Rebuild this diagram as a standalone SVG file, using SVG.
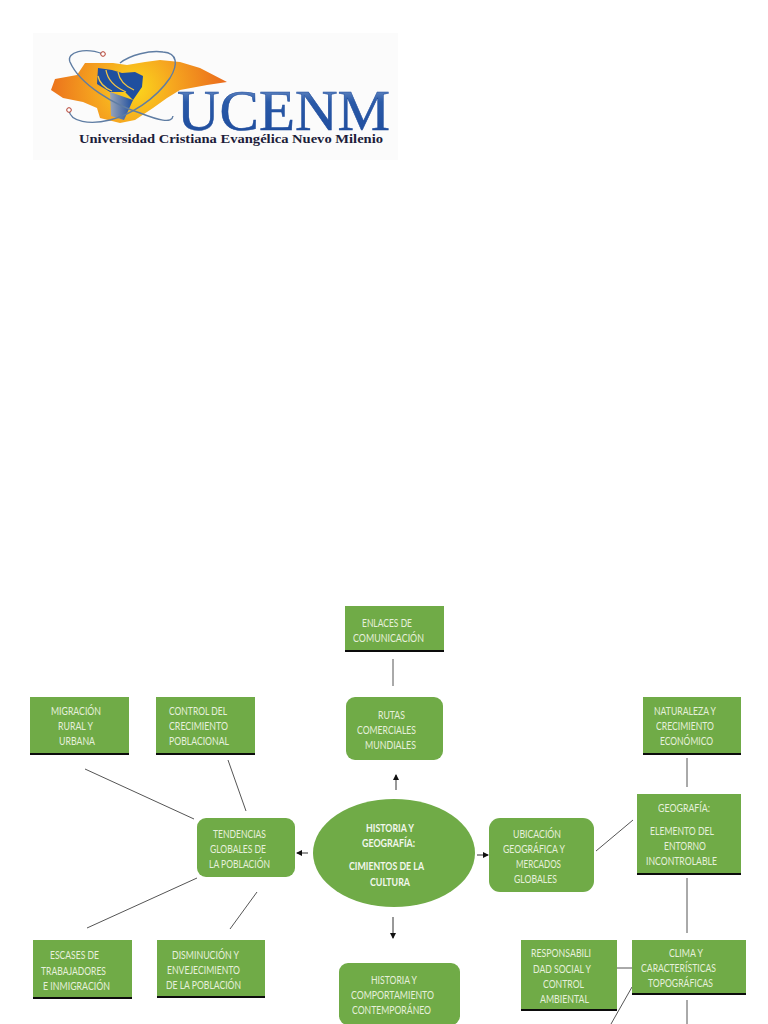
<svg xmlns="http://www.w3.org/2000/svg" width="768" height="1024" viewBox="0 0 768 1024">
<defs>
<radialGradient id="mapG" gradientUnits="userSpaceOnUse" cx="135" cy="88" r="95"><stop offset="0" stop-color="#fbd81c"/><stop offset="0.4" stop-color="#f6a71f"/><stop offset="1" stop-color="#e9661c"/></radialGradient>
<linearGradient id="blueG" x1="0" y1="0" x2="0" y2="1"><stop offset="0" stop-color="#8ea9d4"/><stop offset="0.35" stop-color="#2a5aa8"/><stop offset="1" stop-color="#1c4a9c"/></linearGradient>
<linearGradient id="stemG" x1="0" y1="0" x2="1" y2="0"><stop offset="0" stop-color="#9aa5b8"/><stop offset="1" stop-color="#1f4f9f"/></linearGradient>
<marker id="ah" markerWidth="6" markerHeight="6" refX="5" refY="3" orient="auto" markerUnits="userSpaceOnUse"><path d="M0,0 L6,3 L0,6 Z" fill="#111"/></marker>
</defs>
<style>
.box{fill:#70ab47}
.bar{fill:#0c0c0c}
.t{font-family:"Lato","Open Sans",sans-serif;font-size:10.5px;fill:#e6f0dc}
.b{font-family:"Lato","Open Sans",sans-serif;font-size:10.5px;font-weight:700;fill:#f2f7ec}
.c{stroke:#555;stroke-width:1;fill:none}
.a{stroke:#333;stroke-width:1;fill:none;marker-end:url(#ah)}
</style>
<rect width="768" height="1024" fill="#fff"/>
<g id="logo">
<rect x="33" y="33" width="365" height="127" fill="#fbfbfb"/>
<path d="M51,90 L55,79 L77,75 L85,63 L113,63 L127,65 L145,62 L160,60 L180,62 L200,68 L227,82 L207,85 L180,90 L167,98 L153,108 L135,120 L120,123 L100,118 L97,108 L83,102 L63,98Z" fill="url(#mapG)"/>
<path d="M98,68 L112,70 L122,73 L135,72 L143,76 L142,87 L133,100 L125,92 L110,92 L97,84Z" fill="#1f4f9f"/>
<path d="M110,92 L133,100 L124,120 L111,116Z" fill="url(#stemG)"/>
<path d="M106,70 Q108,84 126,92 M118,72 Q120,84 134,90 M98,76 Q100,86 112,91" stroke="#f4c542" stroke-width="1.3" fill="none"/>
<path d="M103,54 C85,47 66,52 70,62 C80,85 115,105 140,113 C158,120 172,124 173,116" fill="none" stroke="#5f7da3" stroke-width="1.4"/>
<path d="M120,63 C130,55 150,50 163,52 C178,53 178,65 170,78 C155,100 130,115 110,120 C90,125 70,122 69,110" fill="none" stroke="#5f7da3" stroke-width="1.4"/>
<circle cx="103" cy="54" r="2.3" fill="#fff" stroke="#b23a2a" stroke-width="1"/>
<circle cx="69" cy="110" r="2.3" fill="#fff" stroke="#b23a2a" stroke-width="1"/>
<text x="177" y="130" font-family="Liberation Serif,serif" font-size="56" fill="url(#blueG)" textLength="213" lengthAdjust="spacingAndGlyphs" stroke="#1c4a9c" stroke-width="0.5">UCENM</text>
<text x="79" y="143" font-family="Liberation Serif,serif" font-size="12" font-weight="700" fill="#1d1d3a" textLength="304" lengthAdjust="spacingAndGlyphs">Universidad Cristiana Evangélica Nuevo Milenio</text>
</g>
<g id="connectors">
<path class="c" d="M393,659V686"/>
<path class="c" d="M85,769L194,819"/>
<path class="c" d="M228,760L246,811"/>
<path class="c" d="M197,878L87,928"/>
<path class="c" d="M257,892L230,929"/>
<path class="c" d="M687,758V787"/>
<path class="c" d="M687,878V933"/>
<path class="c" d="M596,851L633,820"/>
<path class="c" d="M617,968H632"/>
<path class="c" d="M632,987L611,1024"/>
<path class="c" d="M687,1000V1024"/>
<path class="c" d="M394,1022V1024"/>
<path class="a" d="M396,790V775"/>
<path class="a" d="M393,917V938"/>
<path class="a" d="M308,853H297"/>
<path class="a" d="M477,855H488"/>
</g>
<g id="enlaces"><rect class="box" x="345" y="606" width="99" height="46"/><rect class="bar" x="345" y="650" width="99" height="2"/><text class="t" x="362" y="627" textLength="50" lengthAdjust="spacingAndGlyphs">ENLACES DE</text><text class="t" x="353" y="642" textLength="71" lengthAdjust="spacingAndGlyphs">COMUNICACIÓN</text></g>
<g id="rutas"><rect class="box" x="346" y="697" width="97" height="63" rx="9"/><text class="t" x="378" y="719" textLength="27" lengthAdjust="spacingAndGlyphs">RUTAS</text><text class="t" x="357" y="734" textLength="59" lengthAdjust="spacingAndGlyphs">COMERCIALES</text><text class="t" x="365" y="749" textLength="51" lengthAdjust="spacingAndGlyphs">MUNDIALES</text></g>
<g id="migracion"><rect class="box" x="30" y="697" width="99" height="58"/><rect class="bar" x="30" y="753" width="99" height="2"/><text class="t" x="51" y="715" textLength="50" lengthAdjust="spacingAndGlyphs">MIGRACIÓN</text><text class="t" x="58" y="730" textLength="35" lengthAdjust="spacingAndGlyphs">RURAL Y</text><text class="t" x="59" y="745" textLength="36" lengthAdjust="spacingAndGlyphs">URBANA</text></g>
<g id="control"><rect class="box" x="156" y="697" width="99" height="58"/><rect class="bar" x="156" y="753" width="99" height="2"/><text class="t" x="169" y="715" textLength="58" lengthAdjust="spacingAndGlyphs">CONTROL DEL</text><text class="t" x="169" y="730" textLength="59" lengthAdjust="spacingAndGlyphs">CRECIMIENTO</text><text class="t" x="169" y="745" textLength="60" lengthAdjust="spacingAndGlyphs">POBLACIONAL</text></g>
<g id="naturaleza"><rect class="box" x="643" y="697" width="98" height="58"/><rect class="bar" x="643" y="753" width="98" height="2"/><text class="t" x="654" y="715" textLength="62" lengthAdjust="spacingAndGlyphs">NATURALEZA Y</text><text class="t" x="656" y="730" textLength="58" lengthAdjust="spacingAndGlyphs">CRECIMIENTO</text><text class="t" x="660" y="745" textLength="53" lengthAdjust="spacingAndGlyphs">ECONÓMICO</text></g>
<g id="geografia"><rect class="box" x="637" y="794" width="104" height="81"/><rect class="bar" x="637" y="873" width="104" height="2"/><text class="t" x="658" y="812" textLength="52" lengthAdjust="spacingAndGlyphs">GEOGRAFÍA:</text><text class="t" x="650" y="835" textLength="64" lengthAdjust="spacingAndGlyphs">ELEMENTO DEL</text><text class="t" x="664" y="850" textLength="42" lengthAdjust="spacingAndGlyphs">ENTORNO</text><text class="t" x="646" y="865" textLength="71" lengthAdjust="spacingAndGlyphs">INCONTROLABLE</text></g>
<g id="tendencias"><rect class="box" x="197" y="818" width="98" height="59" rx="9"/><text class="t" x="213" y="838" textLength="53" lengthAdjust="spacingAndGlyphs">TENDENCIAS</text><text class="t" x="210" y="853" textLength="56" lengthAdjust="spacingAndGlyphs">GLOBALES DE</text><text class="t" x="209" y="868" textLength="61" lengthAdjust="spacingAndGlyphs">LA POBLACIÓN</text></g>
<g id="historia-geografia"><ellipse class="box" cx="394" cy="853" rx="81" ry="54"/><text class="b" x="366" y="832" textLength="48" lengthAdjust="spacingAndGlyphs">HISTORIA Y</text><text class="b" x="362" y="847" textLength="53" lengthAdjust="spacingAndGlyphs">GEOGRAFÍA:</text><text class="b" x="349" y="870" textLength="75" lengthAdjust="spacingAndGlyphs">CIMIENTOS DE LA</text><text class="b" x="370" y="886" textLength="40" lengthAdjust="spacingAndGlyphs">CULTURA</text></g>
<g id="ubicacion"><rect class="box" x="489" y="818" width="105" height="74" rx="11"/><text class="t" x="513" y="838" textLength="48" lengthAdjust="spacingAndGlyphs">UBICACIÓN</text><text class="t" x="503" y="853" textLength="62" lengthAdjust="spacingAndGlyphs">GEOGRÁFICA Y</text><text class="t" x="516" y="868" textLength="45" lengthAdjust="spacingAndGlyphs">MERCADOS</text><text class="t" x="514" y="883" textLength="43" lengthAdjust="spacingAndGlyphs">GLOBALES</text></g>
<g id="escases"><rect class="box" x="33" y="940" width="99" height="59"/><rect class="bar" x="33" y="997" width="99" height="2"/><text class="t" x="50" y="959" textLength="49" lengthAdjust="spacingAndGlyphs">ESCASES DE</text><text class="t" x="41" y="975" textLength="65" lengthAdjust="spacingAndGlyphs">TRABAJADORES</text><text class="t" x="43" y="990" textLength="67" lengthAdjust="spacingAndGlyphs">E INMIGRACIÓN</text></g>
<g id="disminucion"><rect class="box" x="157" y="940" width="108" height="58"/><rect class="bar" x="157" y="996" width="108" height="2"/><text class="t" x="172" y="959" textLength="67" lengthAdjust="spacingAndGlyphs">DISMINUCIÓN Y</text><text class="t" x="167" y="974" textLength="73" lengthAdjust="spacingAndGlyphs">ENVEJECIMIENTO</text><text class="t" x="166" y="989" textLength="75" lengthAdjust="spacingAndGlyphs">DE LA POBLACIÓN</text></g>
<g id="historia-comportamiento"><rect class="box" x="339" y="963" width="121" height="62" rx="9"/><text class="t" x="371" y="984" textLength="46" lengthAdjust="spacingAndGlyphs">HISTORIA Y</text><text class="t" x="351" y="999" textLength="83" lengthAdjust="spacingAndGlyphs">COMPORTAMIENTO</text><text class="t" x="352" y="1014" textLength="79" lengthAdjust="spacingAndGlyphs">CONTEMPORÁNEO</text></g>
<g id="responsabilidad"><rect class="box" x="521" y="940" width="96" height="71"/><rect class="bar" x="521" y="1009" width="96" height="2"/><text class="t" x="531" y="957" textLength="60" lengthAdjust="spacingAndGlyphs">RESPONSABILI</text><text class="t" x="533" y="973" textLength="58" lengthAdjust="spacingAndGlyphs">DAD SOCIAL Y</text><text class="t" x="543" y="988" textLength="41" lengthAdjust="spacingAndGlyphs">CONTROL</text><text class="t" x="540" y="1003" textLength="49" lengthAdjust="spacingAndGlyphs">AMBIENTAL</text></g>
<g id="clima"><rect class="box" x="632" y="940" width="114" height="55"/><rect class="bar" x="632" y="993" width="114" height="2"/><text class="t" x="669" y="957" textLength="34" lengthAdjust="spacingAndGlyphs">CLIMA Y</text><text class="t" x="641" y="972" textLength="75" lengthAdjust="spacingAndGlyphs">CARACTERÍSTICAS</text><text class="t" x="648" y="987" textLength="65" lengthAdjust="spacingAndGlyphs">TOPOGRÁFICAS</text></g>
</svg>
